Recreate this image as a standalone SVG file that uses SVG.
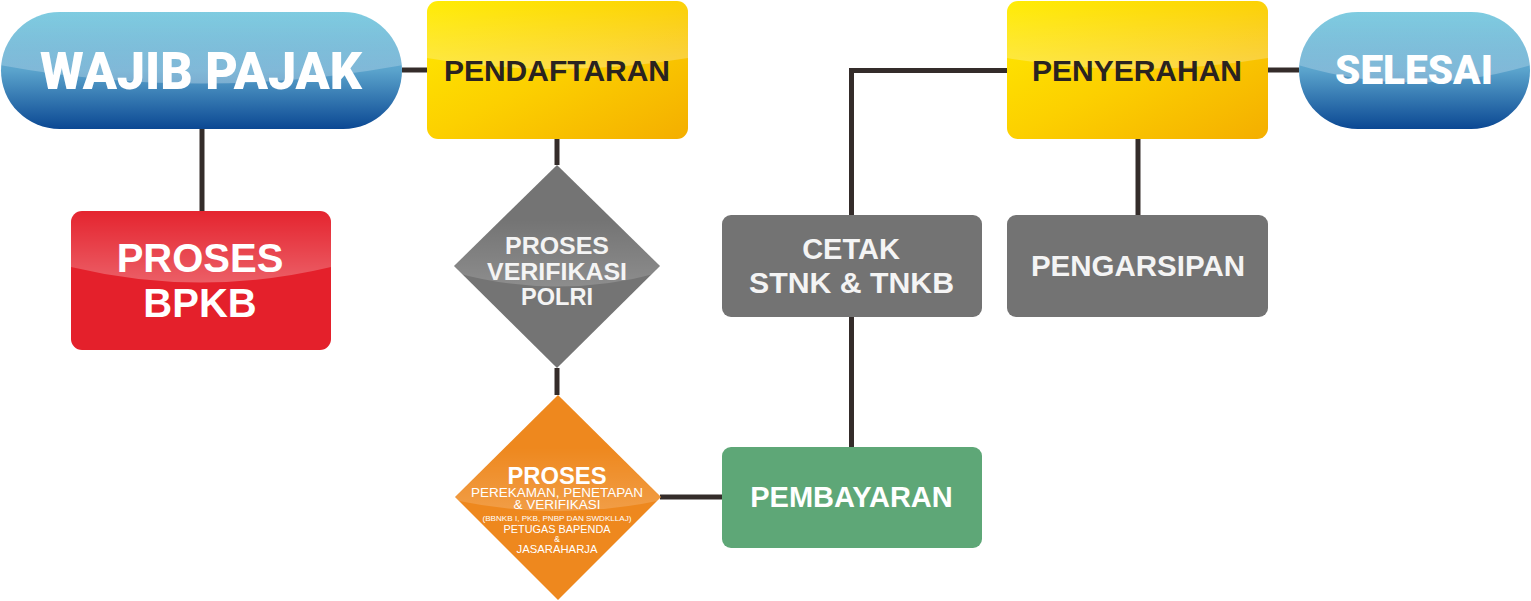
<svg xmlns="http://www.w3.org/2000/svg" width="1531" height="601" viewBox="0 0 1531 601">
<defs>
<style>
.conn{fill:none;stroke:#342c2a;stroke-width:5;stroke-linejoin:miter;stroke-linecap:butt}
.t{font-family:"Liberation Sans",Arial,sans-serif;font-weight:bold;text-anchor:middle}
.n{font-family:"Liberation Sans",Arial,sans-serif;font-weight:normal;text-anchor:middle;fill:#ffffff}
.r{font-family:Roboto,"Liberation Sans",sans-serif;font-weight:900;text-anchor:middle;fill:#ffffff}
.w{fill:#ffffff}
.lg{fill:#f4f4f4}
.dk{fill:#2a2320}
.gloss{fill:url(#glossGrad)}
.dgloss{fill:url(#diaGrad)}
</style>
<linearGradient id="blueGrad" x1="0" y1="0" x2="0" y2="1">
<stop offset="0" stop-color="#7ccbe0"/>
<stop offset="0.5" stop-color="#5aa3cc"/>
<stop offset="1" stop-color="#0b4893"/>
</linearGradient>
<linearGradient id="yellowGrad" x1="0" y1="0" x2="1" y2="1">
<stop offset="0" stop-color="#ffec00"/>
<stop offset="0.5" stop-color="#fcd000"/>
<stop offset="1" stop-color="#f4ae00"/>
</linearGradient>
<linearGradient id="glossGrad" x1="0" y1="0" x2="0" y2="1">
<stop offset="0" stop-color="#ffffff" stop-opacity="0.02"/>
<stop offset="1" stop-color="#ffffff" stop-opacity="0.28"/>
</linearGradient>
<linearGradient id="diaGrad" x1="0" y1="0" x2="0" y2="1">
<stop offset="0" stop-color="#ffffff" stop-opacity="0"/>
<stop offset="0.45" stop-color="#ffffff" stop-opacity="0"/>
<stop offset="1" stop-color="#ffffff" stop-opacity="0.18"/>
</linearGradient>
<clipPath id="cpWajib"><rect x="1" y="12" width="401" height="117" rx="58.5"/></clipPath>
<clipPath id="cpSelesai"><rect x="1299" y="12" width="231" height="117" rx="58.5"/></clipPath>
<clipPath id="cpPend"><rect x="427" y="1" width="261" height="138" rx="11"/></clipPath>
<clipPath id="cpPeny"><rect x="1007" y="1" width="261" height="138" rx="11"/></clipPath>
<clipPath id="cpBpkb"><rect x="71" y="211" width="260" height="139" rx="11"/></clipPath>
<clipPath id="cpGray"><polygon points="557,165 660,266 557,368 454,266"/></clipPath>
<clipPath id="cpOrange"><polygon points="558,395 661,497 558,600 455,497"/></clipPath>
</defs>

<g id="connectors">
<path class="conn" d="M402,70 H427"/>
<path class="conn" d="M202,129 V211"/>
<path class="conn" d="M557,139 V165"/>
<path class="conn" d="M557,368 V395"/>
<path class="conn" d="M660,497 H722"/>
<path class="conn" d="M851.5,447 V317"/>
<path class="conn" d="M851.5,215 V70.5 H1007"/>
<path class="conn" d="M1268,70 H1299"/>
<path class="conn" d="M1138,139 V215"/>
</g>

<g id="node-wajib-pajak">
<rect x="1" y="12" width="401" height="117" rx="58.5" fill="url(#blueGrad)"/>
<path class="gloss" clip-path="url(#cpWajib)" d="M0,12 H403 V65 Q201,102 0,65 Z"/>
<text class="r" x="201" y="89" font-size="52" textLength="322" lengthAdjust="spacingAndGlyphs">WAJIB PAJAK</text>
</g>

<g id="node-pendaftaran">
<rect x="427" y="1" width="261" height="138" rx="11" fill="url(#yellowGrad)"/>
<path class="gloss" clip-path="url(#cpPend)" d="M427,1 H688 V58 Q557,80 427,58 Z"/>
<text class="t dk" x="557" y="81" font-size="30">PENDAFTARAN</text>
</g>

<g id="node-proses-bpkb">
<rect x="71" y="211" width="260" height="139" rx="11" fill="#e4202b"/>
<path class="gloss" clip-path="url(#cpBpkb)" d="M71,211 H331 V267 Q201,298 71,267 Z"/>
<text class="t w" x="200" y="272" font-size="40">PROSES</text>
<text class="t w" x="200" y="317" font-size="40">BPKB</text>
</g>

<g id="node-verifikasi-polri">
<polygon points="557,165 660,266 557,368 454,266" fill="#747474"/>
<path class="dgloss" clip-path="url(#cpGray)" d="M440,165 H675 V268 Q557,305 440,268 Z"/>
<text class="t lg" x="557" y="254" font-size="23" textLength="104" lengthAdjust="spacingAndGlyphs">PROSES</text>
<text class="t lg" x="557" y="279.5" font-size="23" textLength="140" lengthAdjust="spacingAndGlyphs">VERIFIKASI</text>
<text class="t lg" x="557" y="305" font-size="23" textLength="72" lengthAdjust="spacingAndGlyphs">POLRI</text>
</g>

<g id="node-perekaman">
<polygon points="558,395 661,497 558,600 455,497" fill="#ee881e"/>
<path class="dgloss" clip-path="url(#cpOrange)" d="M440,395 H675 V497 Q558,525 440,497 Z"/>
<text class="t w" x="557" y="484" font-size="23" textLength="99" lengthAdjust="spacingAndGlyphs">PROSES</text>
<text class="n" x="557" y="497" font-size="12" textLength="172" lengthAdjust="spacingAndGlyphs">PEREKAMAN, PENETAPAN</text>
<text class="n" x="557" y="509" font-size="12" textLength="87" lengthAdjust="spacingAndGlyphs">&amp; VERIFIKASI</text>
<text class="n" x="557" y="521" font-size="8" textLength="149" lengthAdjust="spacingAndGlyphs">(BBNKB I, PKB, PNBP DAN SWDKLLAJ)</text>
<text class="n" x="557" y="533" font-size="11" textLength="107" lengthAdjust="spacingAndGlyphs">PETUGAS BAPENDA</text>
<text class="n" x="557" y="542" font-size="8.5">&amp;</text>
<text class="n" x="557" y="553" font-size="11" textLength="81" lengthAdjust="spacingAndGlyphs">JASARAHARJA</text>
</g>

<g id="node-pembayaran">
<rect x="722" y="447" width="260" height="101" rx="9" fill="#5ea777"/>
<text class="t w" x="851.5" y="507" font-size="29">PEMBAYARAN</text>
</g>

<g id="node-cetak">
<rect x="722" y="215" width="260" height="102" rx="9" fill="#737373"/>
<text class="t lg" x="851" y="259" font-size="29">CETAK</text>
<text class="t lg" x="851.5" y="293" font-size="29" textLength="205" lengthAdjust="spacingAndGlyphs">STNK &amp; TNKB</text>
</g>

<g id="node-penyerahan">
<rect x="1007" y="1" width="261" height="138" rx="11" fill="url(#yellowGrad)"/>
<path class="gloss" clip-path="url(#cpPeny)" d="M1007,1 H1268 V58 Q1137,80 1007,58 Z"/>
<text class="t dk" x="1137" y="81" font-size="30">PENYERAHAN</text>
</g>

<g id="node-pengarsipan">
<rect x="1007" y="215" width="261" height="102" rx="9" fill="#737373"/>
<text class="t lg" x="1138" y="276" font-size="29.5">PENGARSIPAN</text>
</g>

<g id="node-selesai">
<rect x="1299" y="12" width="231" height="117" rx="58.5" fill="url(#blueGrad)"/>
<path class="gloss" clip-path="url(#cpSelesai)" d="M1298,12 H1531 V65 Q1414,100 1298,65 Z"/>
<text class="r" x="1414" y="84" font-size="40" textLength="158" lengthAdjust="spacingAndGlyphs">SELESAI</text>
</g>
</svg>
